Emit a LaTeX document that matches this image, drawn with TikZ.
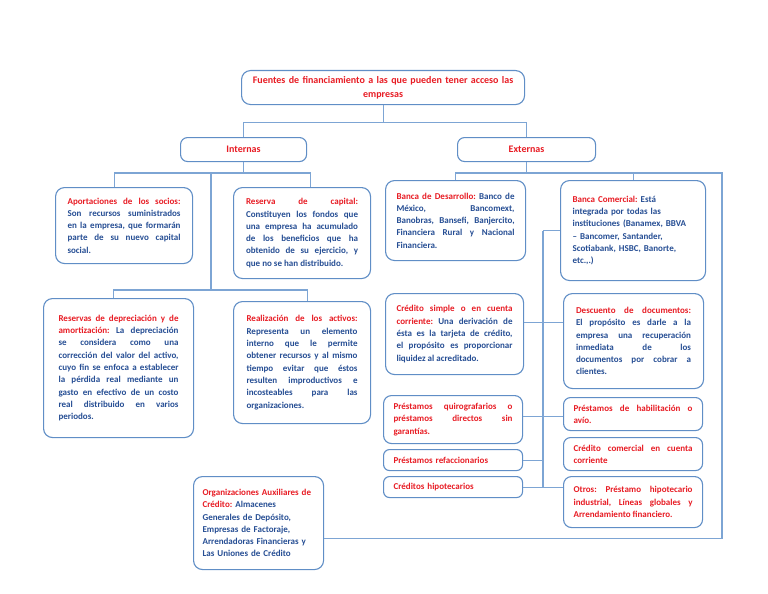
\documentclass[tikz,border=0pt]{standalone}
\usepackage{fontspec}
\setmainfont{Carlito}
\usetikzlibrary{positioning}
\frenchspacing

\definecolor{titlered}{RGB}{232,28,36}
\definecolor{textblue}{RGB}{38,78,148}
\definecolor{edgeblue}{RGB}{96,142,198}
\definecolor{linkblue}{RGB}{125,165,212}
\newcommand{\rd}[1]{\textcolor{titlered}{#1}}

\tikzset{
  fbox/.style={draw=edgeblue, line width=1.1pt, rounded corners=9pt, fill=white,
    text=textblue, anchor=north west, inner xsep=0pt, inner ysep=0pt,
    align=justify, font=\fontsize{9}{12.3}\selectfont\bfseries},
  redbox/.style={fbox, text=titlered},
  headbox/.style={redbox, align=center, font=\fontsize{10}{14.5}\selectfont\bfseries},
  link/.style={draw=linkblue, line width=1.1pt},
}

\begin{document}
\begin{tikzpicture}[x=1pt,y=-1pt]
  \useasboundingbox (0,0) rectangle (768,594);

  % Nodes
  \node[headbox, minimum width=283pt, minimum height=34pt, text width=275pt] (title) at (241,70)
    {Fuentes de financiamiento a las que pueden tener acceso las\\empresas};

  \node[headbox, minimum width=126pt, minimum height=24pt, text width=100pt, rounded corners=7pt] (internas) at (180,137) {Internas};
  \node[headbox, minimum width=138pt, minimum height=24pt, text width=100pt, rounded corners=7pt] (externas) at (457,137) {Externas};

  \node[fbox, minimum width=137pt, minimum height=76pt, text width=113pt] (aport) at (55,187)
    {\rd{Aportaciones de los socios:}\linebreak Son recursos suministrados\linebreak en la empresa, que formarán\linebreak parte de su nuevo capital\linebreak social.};
  \node[fbox, minimum width=137pt, minimum height=91pt, text width=112pt] (rescap) at (233,187)
    {\rd{Reserva de capital:}\linebreak Constituyen los fondos que\linebreak una empresa ha acumulado\linebreak de los beneficios que ha\linebreak obtenido de su ejercicio, y\linebreak que no se han distribuido.};

  \node[fbox, minimum width=150pt, minimum height=139pt, text width=120pt] (resdep) at (43,298)
    {\rd{Reservas de depreciación y de}\linebreak \rd{amortización:} La depreciación\linebreak se considera como una\linebreak corrección del valor del activo,\linebreak cuyo fin se enfoca a establecer\linebreak la pérdida real mediante un\linebreak gasto en efectivo de un costo\linebreak real distribuido en varios\linebreak periodos.};
  \node[fbox, minimum width=137pt, minimum height=122pt, text width=111pt] (realiz) at (233,301)
    {\rd{Realización de los activos:}\linebreak Representa un elemento\linebreak interno que le permite\linebreak obtener recursos y al mismo\linebreak tiempo evitar que éstos\linebreak resulten improductivos e\linebreak incosteables para las\linebreak organizaciones.};

  \node[fbox, minimum width=140pt, minimum height=80pt, text width=118pt] (bdes) at (385,180)
    {\rd{Banca de Desarrollo:} Banco de\linebreak México, Bancomext,\linebreak Banobras, Bansefi, Banjercito,\linebreak Financiera Rural y Nacional\linebreak Financiera.};
  \node[fbox, align=left, minimum width=145pt, minimum height=100pt, text width=121pt] (bcom) at (560,180)
    {\rd{Banca Comercial:} Está\\integrada por todas las\\instituciones (Banamex, BBVA\\– Bancomer, Santander,\\Scotiabank, HSBC, Banorte,\\etc.,.)};

  \node[fbox, minimum width=138pt, minimum height=81pt, text width=116pt] (crsim) at (385,293)
    {\rd{Crédito simple o en cuenta}\linebreak \rd{corriente:} Una derivación de\linebreak ésta es la tarjeta de crédito,\linebreak el propósito es proporcionar\linebreak liquidez al acreditado.};
  \node[fbox, minimum width=140pt, minimum height=95pt, text width=115pt] (desc) at (563,293)
    {\rd{Descuento de documentos:}\linebreak El propósito es darle a la\linebreak empresa una recuperación\linebreak inmediata de los\linebreak documentos por cobrar a\linebreak clientes.};

  \node[redbox, minimum width=139pt, minimum height=48pt, text width=119pt, rounded corners=8pt] (quiro) at (383,395)
    {Préstamos quirografarios o\linebreak préstamos directos sin\linebreak garantías.};
  \node[redbox, minimum width=139pt, minimum height=33pt, text width=119pt, rounded corners=7pt] (habil) at (563,397)
    {Préstamos de habilitación o\linebreak avío.};
  \node[redbox, align=left, minimum width=139pt, minimum height=21pt, text width=119pt, rounded corners=6pt] (refac) at (383,449)
    {Préstamos refaccionarios};
  \node[redbox, minimum width=139pt, minimum height=33pt, text width=119pt, rounded corners=7pt] (crcom) at (563,437)
    {Crédito comercial en cuenta\linebreak corriente};
  \node[redbox, align=left, minimum width=139pt, minimum height=21pt, text width=119pt, rounded corners=6pt] (hipot) at (383,476)
    {Créditos hipotecarios};
  \node[redbox, minimum width=139pt, minimum height=51pt, text width=119pt, rounded corners=8pt] (otros) at (563,476)
    {Otros: Préstamo hipotecario\linebreak industrial, Líneas globales y\linebreak Arrendamiento financiero.};

  \node[fbox, align=left, minimum width=130pt, minimum height=93pt, text width=112pt] (org) at (193,476)
    {\rd{Organizaciones Auxiliares de}\\\rd{Crédito:} Almacenes\\Generales de Depósito,\\Empresas de Factoraje,\\Arrendadoras Financieras y\\Las Uniones de Crédito};

  % Edges
  \draw[link] (title.south) -- ++(0,17) coordinate (tj);
  \draw[link] (internas.north) |- (tj) -| (externas.north);

  \draw[link] (internas.south) -- ++(0,12);
  \draw[link] ([xshift=-10pt]aport.north) -- ++(0,-14) coordinate (ij) -| ([xshift=8pt]rescap.north);
  \coordinate (ispine) at (211,173);
  \draw[link] (ispine) -- ++(0,117) coordinate (ilow);
  \draw[link] ([xshift=-5pt]resdep.north) |- (ilow);
  \draw[link] ([xshift=5pt]realiz.north) |- (ilow);

  \draw[link] (externas.south) -- ++(0,12);
  \coordinate (eright) at (722,173);
  \draw[link] (bdes.north) |- (eright) |- ([yshift=-15pt]org.east);
  \draw[link] (bcom.north) -- (bcom.north |- eright);

  \draw[link] (bcom.west) -- ++(-17,0) coordinate (sp);
  \draw[link] (sp) |- (hipot.east);
  \draw[link] ([yshift=12pt]crsim.east) -- ([yshift=12pt]crsim.east -| desc.west);
  \draw[link] ([yshift=3pt]quiro.east) -- ([yshift=3pt]quiro.east -| habil.west);
  \draw[link] (refac.east) -- (refac.east -| sp);
  \draw[link] (hipot.east) -- (hipot.east -| otros.west);
\end{tikzpicture}
\end{document}
